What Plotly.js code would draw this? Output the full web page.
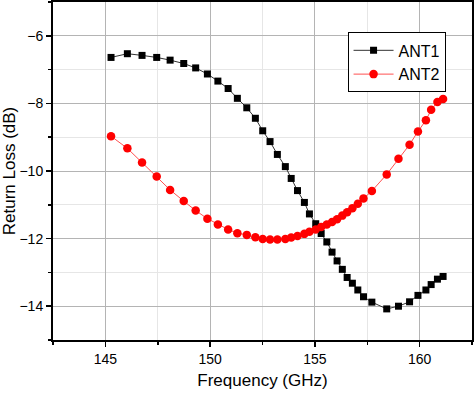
<!DOCTYPE html>
<html>
<head>
<meta charset="utf-8">
<script src="https://cdn.plot.ly/plotly-3.0.1.min.js"></script>
<style>html,body{margin:0;padding:0;background:#fff;}#chart{width:474px;height:393px;}</style>
</head>
<body>
<div id="chart"></div>
<script>
const freq = [145.27, 146.05, 146.75, 147.45, 148.09, 148.74, 149.31, 149.87, 150.37, 150.86,
  151.30, 151.75, 152.16, 152.51, 152.86, 153.21, 153.59, 153.87, 154.17, 154.50,
  154.74, 155.04, 155.30, 155.57, 155.82, 156.06, 156.31, 156.54, 156.79, 157.05,
  157.32, 157.72, 158.43, 158.99, 159.52, 159.92, 160.30, 160.55, 160.85, 161.12];
const ant1 = [-6.64, -6.53, -6.58, -6.64, -6.72, -6.82, -6.95, -7.13, -7.34, -7.56,
  -7.85, -8.13, -8.44, -8.81, -9.13, -9.51, -9.87, -10.22, -10.58, -10.93,
  -11.27, -11.56, -11.85, -12.10, -12.40, -12.66, -12.91, -13.15, -13.32, -13.52,
  -13.72, -13.88, -14.08, -14.00, -13.87, -13.68, -13.52, -13.36, -13.20, -13.12];
const ant2 = [-8.97, -9.33, -9.75, -10.16, -10.56, -10.89, -11.17, -11.41, -11.58, -11.73,
  -11.84, -11.89, -11.96, -12.01, -12.03, -12.03, -12.01, -11.97, -11.92, -11.86,
  -11.80, -11.73, -11.66, -11.58, -11.51, -11.43, -11.32, -11.22, -11.10, -10.97,
  -10.81, -10.59, -10.10, -9.64, -9.22, -8.83, -8.50, -8.19, -7.96, -7.87];
const seriesNames = ['ANT1', 'ANT2'];

const traces = [
  {x: freq, y: ant1, name: seriesNames[0], type: 'scatter', mode: 'lines+markers',
   line: {color: '#333333', width: 1}, marker: {symbol: 'square', size: 7, color: '#000000'}},
  {x: freq, y: ant2, name: seriesNames[1], type: 'scatter', mode: 'lines+markers',
   line: {color: '#ff5050', width: 1}, marker: {symbol: 'circle', size: 8.5, color: '#ff0000'}}
];

const font = 'Liberation Sans, Arial, sans-serif';
const layout = {
  width: 474, height: 393,
  margin: {l: 53, r: 2, t: 2, b: 53},
  paper_bgcolor: '#ffffff', plot_bgcolor: '#ffffff',
  font: {family: font, color: '#000000', size: 14},
  showlegend: true,
  legend: {x: 0.703, y: 0.91, xanchor: 'left', yanchor: 'top', bgcolor: '#ffffff',
    bordercolor: '#000000', borderwidth: 1, font: {family: font, size: 16, color: '#000'},
    itemwidth: 40, tracegroupgap: 0},
  xaxis: {
    range: [142.5, 162.5], tick0: 145, dtick: 5,
    showline: true, linecolor: '#000000', linewidth: 2, mirror: true,
    ticks: 'outside', ticklen: 5, tickwidth: 1.5, tickcolor: '#000',
    showgrid: true, gridcolor: '#b4b4b4', gridwidth: 1, zeroline: false,
    minor: {dtick: 2.5, tick0: 142.5, ticks: 'outside', ticklen: 3, tickcolor: '#000', showgrid: true, gridcolor: '#e6e6e6', gridwidth: 1},
    tickfont: {family: font, size: 14},
    title: {text: 'Frequency (GHz)', font: {family: font, size: 17}, standoff: 8}
  },
  yaxis: {
    range: [-15, -5], tick0: -6, dtick: 2,
    showline: true, linecolor: '#000000', linewidth: 2, mirror: true,
    ticks: 'outside', ticklen: 5, tickwidth: 1.5, tickcolor: '#000',
    showgrid: true, gridcolor: '#b4b4b4', gridwidth: 1, zeroline: false,
    minor: {dtick: 1, tick0: -15, ticks: 'outside', ticklen: 3, tickcolor: '#000', showgrid: true, gridcolor: '#e6e6e6', gridwidth: 1},
    tickfont: {family: font, size: 14},
    title: {text: 'Return Loss (dB)', font: {family: font, size: 17}, standoff: 5}
  }
};
Plotly.newPlot('chart', traces, layout, {displayModeBar: false, staticPlot: true});
</script>
</body>
</html>
